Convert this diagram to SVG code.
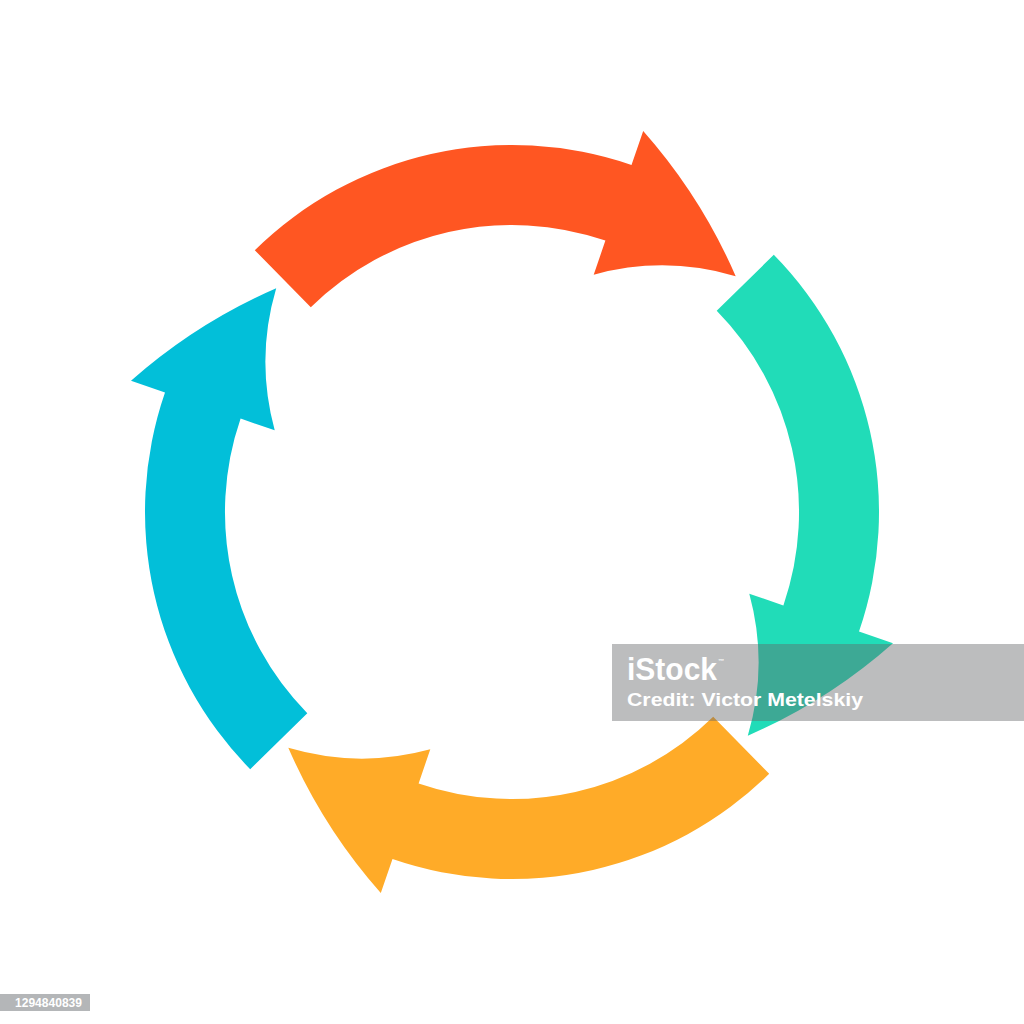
<svg xmlns="http://www.w3.org/2000/svg" width="1024" height="1024" viewBox="0 0 1024 1024">
<defs>
<style>
.wm{font-family:"Liberation Sans",Arial,sans-serif;font-weight:bold;fill:#ffffff}
</style>
<path id="arrow" d="M254.8,250.2 A367,367 0 0 1 631.5,165 L643.2,131 A550,550 0 0 1 735.7,276.2 A260,260 0 0 0 593.7,274.7 L605.4,240.6 A287,287 0 0 0 310.8,307.3 Z"/>
</defs>
<rect width="1024" height="1024" fill="#ffffff"/>
<g id="connectors"></g>
<g id="arrow-orange"><use href="#arrow" fill="#FF5622"/></g>
<g id="arrow-teal"><use href="#arrow" fill="#21DCB8" transform="rotate(90 512 512)"/></g>
<g id="arrow-yellow"><use href="#arrow" fill="#FFAB28" transform="rotate(180 512 512)"/></g>
<g id="arrow-blue"><use href="#arrow" fill="#02BFD9" transform="rotate(270 512 512)"/></g>
<g id="watermark">
<rect x="612" y="644" width="412" height="77" fill="#646668" fill-opacity="0.43"/>
<text class="wm" x="627" y="680" font-size="31" textLength="90" lengthAdjust="spacingAndGlyphs">iStock</text>
<text class="wm" x="718" y="663" font-size="6">™</text>
<text class="wm" x="627" y="706" font-size="19" textLength="236" lengthAdjust="spacingAndGlyphs">Credit: Victor Metelskiy</text>
</g>
<g id="id-tag">
<rect x="0" y="994" width="90" height="17" fill="#B4B6B8"/>
<text class="wm" x="15" y="1007" font-size="12" textLength="67" lengthAdjust="spacingAndGlyphs">1294840839</text>
</g>
</svg>
